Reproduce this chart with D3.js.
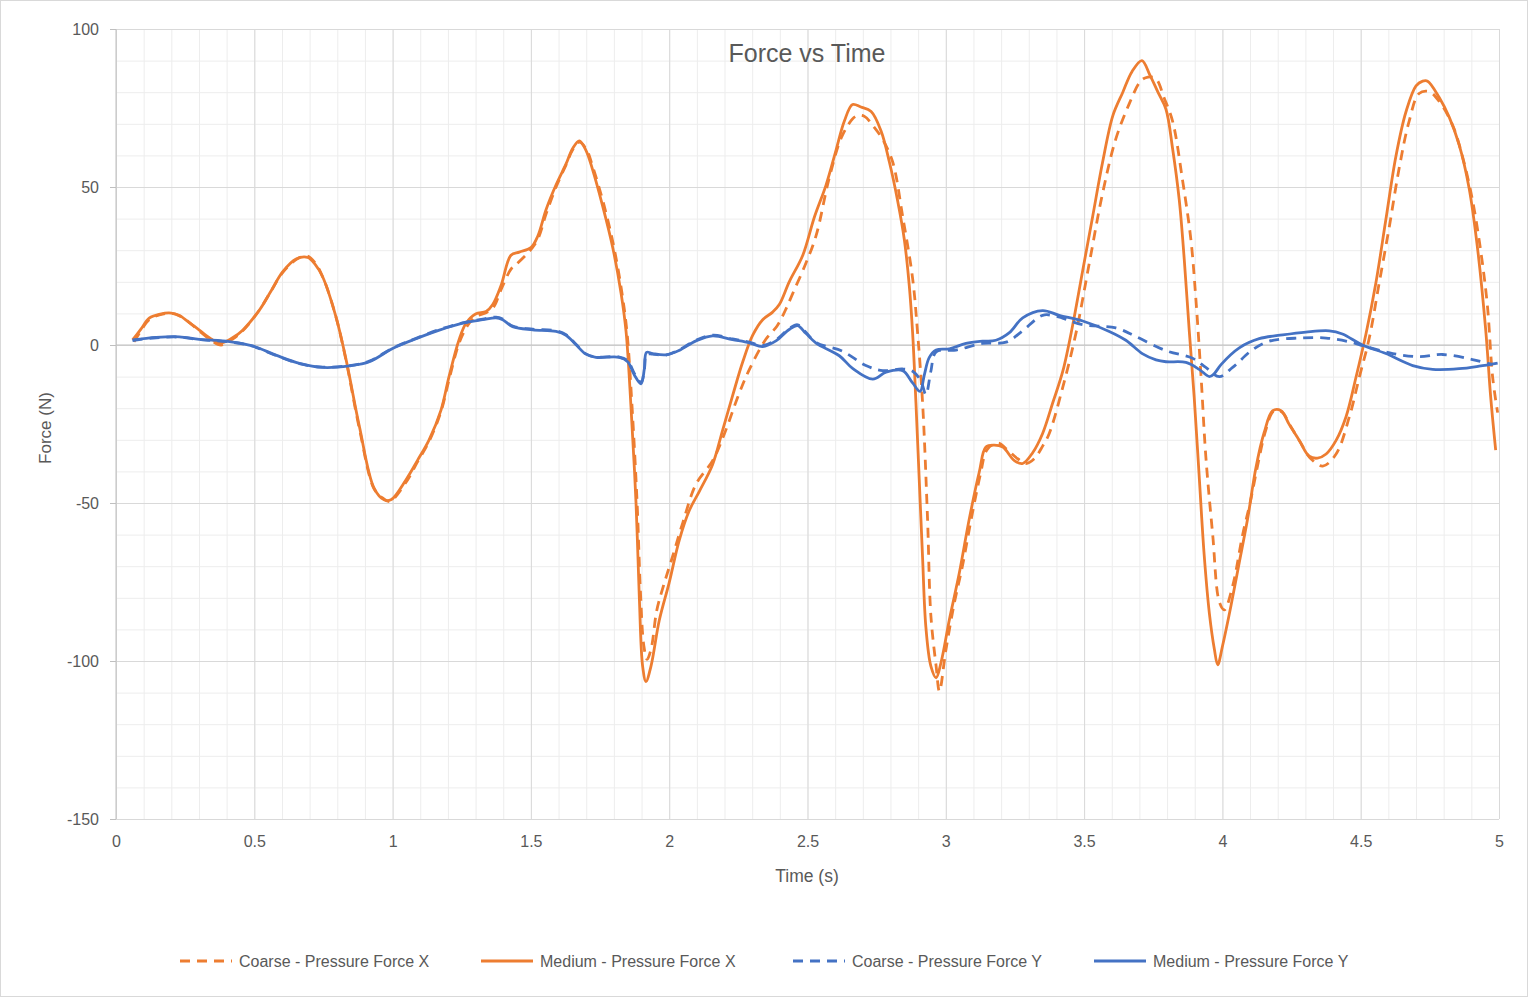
<!DOCTYPE html>
<html>
<head>
<meta charset="utf-8">
<script src="https://cdn.jsdelivr.net/npm/d3@7"></script>
<style>
  body { margin: 0; background: #fff; }
  text { font-family: "Liberation Sans", Arial, sans-serif; fill: #595959; }
</style>
</head>
<body>
<div id="chart"></div>
<script>
// time (s) / force (N) pairs
var coarseX = [[0.065,1.0],[0.09,4.5],[0.12,8],[0.16,9.6],[0.2,10],[0.23,9.2],[0.26,7.5],[0.3,4.5],[0.344,1.5],[0.38,0],[0.42,1.8],[0.458,4.5],[0.518,11],[0.56,17],[0.603,23],[0.651,27],[0.69,28.2],[0.72,26],[0.75,21],[0.795,9],[0.832,-5],[0.88,-26.5],[0.933,-45.5],[0.965,-48.5],[0.99,-49.5],[1.048,-43.5],[1.09,-37],[1.132,-30.5],[1.175,-21],[1.204,-11],[1.24,0.5],[1.27,6],[1.3,9],[1.338,10.2],[1.365,12],[1.392,17.5],[1.428,24],[1.446,25.4],[1.494,29.6],[1.525,33.5],[1.555,41.5],[1.591,50],[1.627,57],[1.651,61.8],[1.675,64.2],[1.7,62],[1.725,56],[1.765,44],[1.8,31],[1.83,16],[1.848,3.5],[1.866,-20],[1.884,-50],[1.896,-78],[1.908,-95],[1.92,-99.5],[1.935,-96],[1.955,-84],[1.98,-76],[2.012,-67],[2.05,-56],[2.097,-44],[2.157,-36.6],[2.2,-28],[2.25,-16],[2.29,-7.7],[2.35,1.9],[2.39,6],[2.42,11],[2.45,17],[2.49,25],[2.531,34.6],[2.579,53],[2.627,66.5],[2.675,72.4],[2.705,72.4],[2.74,69],[2.772,65],[2.808,57.9],[2.844,40.7],[2.88,21.1],[2.898,3.9],[2.916,-18.2],[2.934,-55],[2.946,-85.6],[2.965,-101.6],[2.977,-109.6],[3.0,-96.7],[3.03,-82],[3.06,-70],[3.09,-56],[3.125,-41],[3.15,-33],[3.19,-31],[3.22,-33],[3.26,-36],[3.29,-37.5],[3.32,-36],[3.35,-32],[3.374,-28],[3.423,-13.3],[3.471,3.9],[3.519,26],[3.567,48.1],[3.615,65.3],[3.663,76.3],[3.7,83],[3.72,84.5],[3.757,84.5],[3.79,78],[3.82,70.8],[3.856,52.1],[3.886,33.4],[3.904,14.7],[3.923,-10.2],[3.94,-35.2],[3.965,-60.1],[3.989,-81.3],[4.007,-83.8],[4.037,-76.3],[4.073,-60.1],[4.1,-50],[4.13,-37],[4.155,-27.5],[4.185,-21],[4.215,-21.2],[4.245,-25.5],[4.28,-30.5],[4.32,-36],[4.363,-38.3],[4.411,-34.5],[4.459,-22.7],[4.495,-10.2],[4.531,2.2],[4.567,19.7],[4.603,37.2],[4.639,55.9],[4.675,70.8],[4.711,79.6],[4.747,80.2],[4.784,77.1],[4.832,69.6],[4.868,59.6],[4.904,45.9],[4.934,29.7],[4.958,12.5],[4.977,-10.2],[4.995,-21.4]];

var mediumX = [[0.06,1.6],[0.09,5],[0.12,8.5],[0.16,9.8],[0.2,10.1],[0.23,9.3],[0.253,7.9],[0.3,4.8],[0.344,1.9],[0.38,0.6],[0.42,2.2],[0.458,4.7],[0.518,11],[0.56,17],[0.603,23.2],[0.651,27.2],[0.693,27.7],[0.72,25.5],[0.747,21.6],[0.795,9],[0.832,-4.7],[0.88,-25.8],[0.933,-45.3],[0.969,-49],[0.994,-49],[1.048,-42.7],[1.09,-36.5],[1.132,-30],[1.175,-20.6],[1.204,-10],[1.24,1.6],[1.265,6.8],[1.3,9.8],[1.338,10.6],[1.362,12.8],[1.392,18.8],[1.428,28.4],[1.458,29.4],[1.5,30.8],[1.525,34.5],[1.555,42.9],[1.591,50.7],[1.627,57.3],[1.651,62.2],[1.675,64.6],[1.699,61.6],[1.723,55.5],[1.759,44.1],[1.796,30.8],[1.826,16.4],[1.844,4.3],[1.862,-19.8],[1.88,-49.9],[1.892,-80],[1.904,-101.7],[1.916,-106.5],[1.934,-101.7],[1.964,-87.2],[2.0,-75.2],[2.036,-61.9],[2.073,-52.3],[2.109,-46.3],[2.157,-37.8],[2.193,-27],[2.229,-16.1],[2.266,-5.3],[2.302,3.1],[2.338,8],[2.374,10.4],[2.398,12.8],[2.434,20],[2.483,28.4],[2.525,40.5],[2.567,50.6],[2.603,61.6],[2.633,70.8],[2.663,76.1],[2.693,75.3],[2.73,73.9],[2.766,67.7],[2.796,57.9],[2.826,45.6],[2.85,33.4],[2.868,18.7],[2.88,3.9],[2.892,-18.2],[2.904,-42.7],[2.916,-67.2],[2.928,-89.3],[2.946,-101.6],[2.965,-105.3],[2.983,-100.4],[3.013,-86.9],[3.049,-72.1],[3.085,-55],[3.121,-40.2],[3.145,-32.3],[3.175,-31.7],[3.206,-32.3],[3.248,-36.6],[3.278,-37.5],[3.314,-34.1],[3.35,-28],[3.387,-18.2],[3.423,-8.3],[3.459,6.4],[3.495,23.6],[3.531,40.7],[3.567,57.9],[3.604,72.6],[3.64,80],[3.673,86.5],[3.709,90],[3.738,85.4],[3.767,80],[3.796,74.6],[3.82,62.1],[3.844,45.9],[3.862,27.2],[3.88,4.7],[3.898,-16.5],[3.916,-41.4],[3.934,-66.3],[3.953,-85],[3.971,-96.3],[3.983,-101.2],[4.001,-95],[4.031,-82.5],[4.061,-68.8],[4.091,-55.1],[4.121,-38.9],[4.151,-27.7],[4.182,-20.8],[4.212,-20.8],[4.242,-25.2],[4.278,-30.2],[4.314,-35.2],[4.344,-35.8],[4.375,-34.5],[4.411,-30.2],[4.447,-22.7],[4.483,-10.2],[4.519,3.5],[4.555,19.7],[4.591,39.7],[4.627,59.6],[4.664,73.9],[4.7,82],[4.724,83.5],[4.742,83.5],[4.784,78.3],[4.82,72.1],[4.856,63.3],[4.892,49.6],[4.922,30.9],[4.952,4.7],[4.97,-16.5],[4.988,-33.3]];

var coarseY = [[0.06,1.4],[0.145,2.3],[0.229,2.5],[0.301,1.7],[0.41,1.0],[0.494,-0.4],[0.578,-3.3],[0.663,-5.9],[0.747,-7.0],[0.844,-6.5],[0.916,-5.1],[1.0,-1.0],[1.085,2.1],[1.169,4.9],[1.253,7],[1.326,8.2],[1.374,8.8],[1.398,8.2],[1.434,6],[1.506,5],[1.591,4.5],[1.627,3.3],[1.663,0.2],[1.699,-2.8],[1.735,-3.8],[1.82,-3.8],[1.85,-5],[1.874,-9],[1.898,-11.8],[1.91,-8],[1.918,-3],[1.94,-2.9],[1.988,-3.2],[2.036,-1.5],[2.097,1.5],[2.157,3.1],[2.229,1.9],[2.29,0.9],[2.338,-0.2],[2.386,1.6],[2.434,5.2],[2.464,6.4],[2.494,4],[2.531,0.8],[2.627,-2],[2.711,-6.5],[2.772,-8.1],[2.844,-7.6],[2.88,-8.3],[2.91,-11.4],[2.928,-15.7],[2.946,-8.3],[2.965,-2.2],[3.037,-1.6],[3.133,0.5],[3.218,0.9],[3.278,4.5],[3.35,9.4],[3.398,9.1],[3.495,6.4],[3.615,5.4],[3.687,2.7],[3.796,-1.8],[3.892,-4.2],[3.94,-7.1],[3.989,-10],[4.037,-7.1],[4.109,-1.5],[4.169,1.2],[4.278,2.2],[4.375,2.2],[4.459,1],[4.519,-0.5],[4.616,-2.7],[4.711,-3.7],[4.796,-3],[4.904,-4.6],[4.976,-6.2]];

var mediumY = [[0.06,1.6],[0.145,2.4],[0.229,2.6],[0.301,1.8],[0.41,1.1],[0.494,-0.3],[0.578,-3.2],[0.663,-5.8],[0.747,-7.1],[0.844,-6.6],[0.916,-5.3],[1.0,-1.1],[1.085,2],[1.169,4.7],[1.253,6.9],[1.326,8],[1.374,8.6],[1.398,8],[1.434,5.8],[1.506,4.8],[1.591,4.3],[1.627,3.1],[1.663,0.1],[1.699,-2.9],[1.735,-3.9],[1.82,-3.9],[1.85,-5.3],[1.874,-9.5],[1.898,-12.3],[1.91,-7.7],[1.918,-2.3],[1.94,-2.7],[1.988,-3.1],[2.036,-1.7],[2.097,1.3],[2.157,2.9],[2.229,1.7],[2.29,0.7],[2.338,-0.5],[2.386,1.3],[2.434,4.9],[2.464,6.1],[2.494,3.7],[2.531,0.6],[2.615,-3.4],[2.663,-7.4],[2.736,-10.8],[2.784,-8.6],[2.844,-8.1],[2.88,-12],[2.907,-14.7],[2.922,-9.6],[2.94,-4],[2.965,-1.6],[3.013,-1.2],[3.073,0.5],[3.133,1.2],[3.181,1.5],[3.23,3.9],[3.278,8.6],[3.35,10.9],[3.41,9.4],[3.495,7.6],[3.591,4.3],[3.651,1.5],[3.712,-2.8],[3.76,-4.7],[3.796,-5.3],[3.868,-5.5],[3.916,-7.7],[3.953,-10],[3.971,-9],[3.995,-6.2],[4.061,-0.9],[4.133,2],[4.218,3.2],[4.302,4.1],[4.386,4.5],[4.434,3.5],[4.506,0],[4.591,-2.7],[4.688,-6.5],[4.76,-7.7],[4.856,-7.5],[4.928,-6.7],[4.995,-5.7]];

var seriesNames = ["Coarse - Pressure Force X", "Medium - Pressure Force X", "Coarse - Pressure Force Y", "Medium - Pressure Force Y"];
var seriesColors = ["#ED7D31", "#ED7D31", "#4472C4", "#4472C4"];
var seriesDashed = [true, false, true, false];
var seriesData = [coarseX, mediumX, coarseY, mediumY];

var xTicks = [0, 0.5, 1, 1.5, 2, 2.5, 3, 3.5, 4, 4.5, 5];
var yTicks = [-150, -100, -50, 0, 50, 100];

var svgWidth = 1528;
var svgHeight = 997;

var margin = { top: 29, right: 29, bottom: 178, left: 116 };
var width = svgWidth - margin.left - margin.right;
var height = svgHeight - margin.top - margin.bottom;

var svg = d3.select("#chart")
  .append("svg")
  .attr("width", svgWidth)
  .attr("height", svgHeight);

// outer chart border
svg.append("rect")
  .attr("x", 0.5)
  .attr("y", 0.5)
  .attr("width", svgWidth - 1)
  .attr("height", svgHeight - 1)
  .attr("fill", "#fff")
  .attr("stroke", "#d9d9d9");

var chartGroup = svg.append("g")
  .attr("transform", `translate(${margin.left}, ${margin.top})`);

var xScale = d3.scaleLinear().domain([0, 5]).range([0, width]);
var yScale = d3.scaleLinear().domain([-150, 100]).range([height, 0]);

// minor gridlines
chartGroup.append("g")
  .call(d3.axisBottom(xScale).tickValues(d3.range(0, 51).map(d => d / 10)).tickSize(-height).tickFormat(""))
  .attr("transform", `translate(0, ${height})`)
  .call(g => g.select(".domain").remove())
  .selectAll("line").attr("stroke", "#ededed");

chartGroup.append("g")
  .call(d3.axisLeft(yScale).tickValues(d3.range(-150, 101, 10)).tickSize(-width).tickFormat(""))
  .call(g => g.select(".domain").remove())
  .selectAll("line").attr("stroke", "#ededed");

// major gridlines
chartGroup.append("g")
  .call(d3.axisBottom(xScale).tickValues(xTicks).tickSize(-height).tickFormat(""))
  .attr("transform", `translate(0, ${height})`)
  .call(g => g.select(".domain").remove())
  .selectAll("line").attr("stroke", "#d9d9d9");

chartGroup.append("g")
  .call(d3.axisLeft(yScale).tickValues(yTicks).tickSize(-width).tickFormat(""))
  .call(g => g.select(".domain").remove())
  .selectAll("line").attr("stroke", "#d9d9d9");

// y axis with labels (plain hyphen for negatives, as in the original)
var leftAxis = chartGroup.append("g")
  .call(d3.axisLeft(yScale).tickValues(yTicks).tickSize(6).tickPadding(11).tickFormat(d => String(d)));
leftAxis.select(".domain").attr("stroke", "#bfbfbf").attr("d", `M0,0V${height}`);
leftAxis.selectAll("line").attr("stroke", "#bfbfbf");
leftAxis.selectAll("text")
  .attr("font-size", "16px")
  .style("font-family", "Liberation Sans, Arial, sans-serif")
  .attr("fill", "#595959");

// horizontal axis line at zero
chartGroup.append("line")
  .attr("x1", 0)
  .attr("x2", width)
  .attr("y1", yScale(0))
  .attr("y2", yScale(0))
  .attr("stroke", "#bfbfbf")
  .attr("stroke-width", 1.2);

// x tick labels sit at the bottom of the plot
var bottomAxis = chartGroup.append("g")
  .attr("transform", `translate(0, ${height})`)
  .call(d3.axisBottom(xScale).tickValues(xTicks).tickSize(0).tickPadding(17).tickFormat(d => String(d)));
bottomAxis.select(".domain").remove();
bottomAxis.selectAll("text")
  .attr("font-size", "16px")
  .style("font-family", "Liberation Sans, Arial, sans-serif")
  .attr("fill", "#595959");

// lines
var line = d3.line()
  .x(d => xScale(d[0]))
  .y(d => yScale(d[1]))
  .curve(d3.curveCatmullRom.alpha(0.5));

seriesData.forEach(function(data, i) {
  chartGroup.append("path")
    .datum(data)
    .attr("fill", "none")
    .attr("stroke", seriesColors[i])
    .attr("stroke-width", 2.8)
    .attr("stroke-linejoin", "round")
    .attr("stroke-dasharray", seriesDashed[i] ? "10,7" : null)
    .attr("d", line);
});

// title
svg.append("text")
  .attr("x", 807)
  .attr("y", 62)
  .attr("text-anchor", "middle")
  .attr("font-size", "25px")
  .text("Force vs Time");

// axis titles
svg.append("text")
  .attr("x", 807)
  .attr("y", 882)
  .attr("text-anchor", "middle")
  .attr("font-size", "17.5px")
  .text("Time (s)");

svg.append("text")
  .attr("transform", "translate(51, 428) rotate(-90)")
  .attr("text-anchor", "middle")
  .attr("font-size", "17px")
  .text("Force (N)");

// legend
var legendX = [180, 481, 793, 1094];
var legend = svg.append("g");

seriesNames.forEach(function(name, i) {
  var item = legend.append("g")
    .attr("transform", `translate(${legendX[i]}, 961)`);
  item.append("line")
    .attr("x1", 0)
    .attr("x2", 52)
    .attr("stroke", seriesColors[i])
    .attr("stroke-width", 2.8)
    .attr("stroke-dasharray", seriesDashed[i] ? "10,7" : null);
  item.append("text")
    .attr("x", 59)
    .attr("dy", "0.35em")
    .attr("font-size", "16px")
    .text(name);
});
</script>
</body>
</html>
